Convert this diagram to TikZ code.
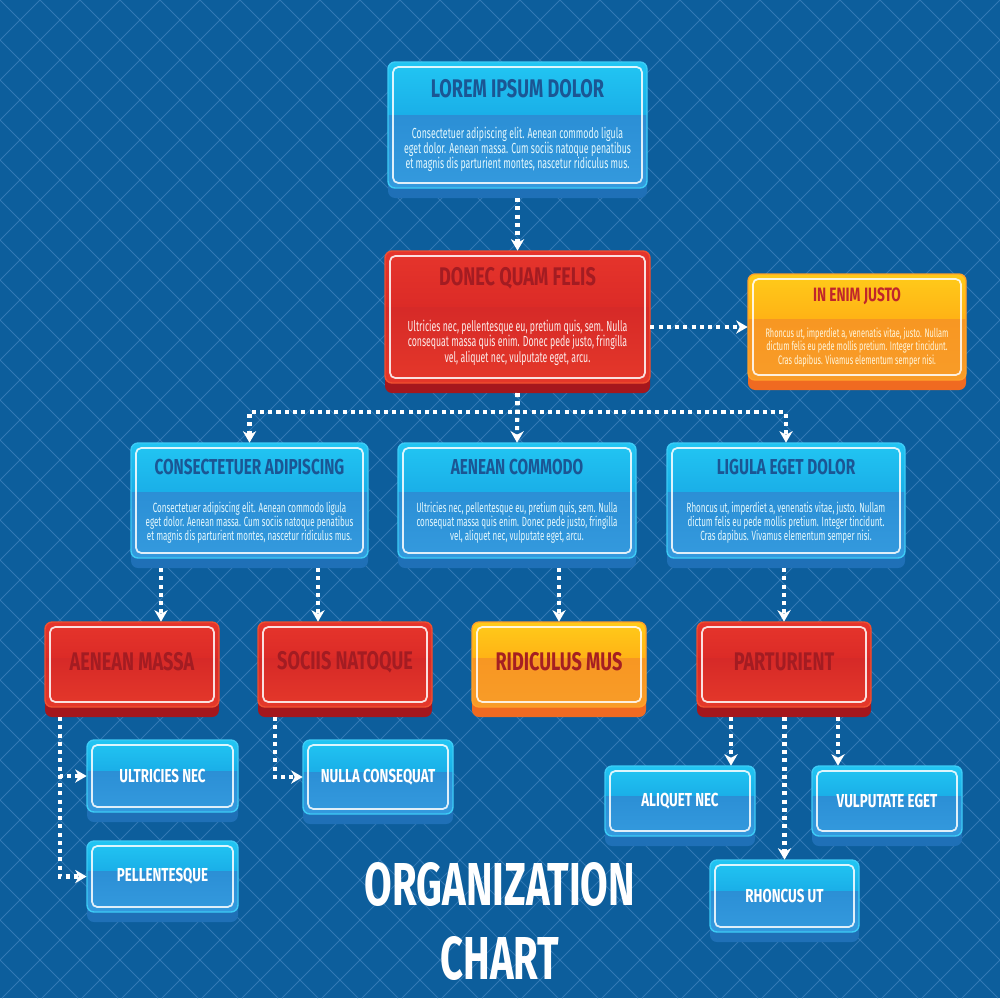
\documentclass[tikz,border=0pt]{standalone}
\usepackage{fontspec}
\setmainfont{Fira Sans}[FakeStretch=0.6]
\newfontfamily\bigfam{Fira Sans}[FakeStretch=0.66]
\newfontfamily\ttlfam{Fira Sans}[FakeStretch=0.71]
\usetikzlibrary{arrows.meta,fit,calc}
\definecolor{bg}{HTML}{0D5E9C}
\definecolor{gridc}{HTML}{3379B5}
\definecolor{Btop1}{HTML}{22C6F3}
\definecolor{Btop2}{HTML}{1AAFE8}
\definecolor{Bbot1}{HTML}{2587CF}
\definecolor{Bbot2}{HTML}{349ADE}
\definecolor{Bbase}{HTML}{1F70B7}
\definecolor{Bedge}{HTML}{3CCBF6}
\definecolor{Btitle}{HTML}{1B5694}
\definecolor{Rtop1}{HTML}{E6352C}
\definecolor{Rtop2}{HTML}{DC2B27}
\definecolor{Rbot1}{HTML}{CB1F26}
\definecolor{Rbot2}{HTML}{E5382A}
\definecolor{Rbase}{HTML}{A5171D}
\definecolor{Redge}{HTML}{F05030}
\definecolor{Rtitle}{HTML}{A31C22}
\definecolor{Otop1}{HTML}{FFCB1A}
\definecolor{Otop2}{HTML}{FFB315}
\definecolor{Obot1}{HTML}{F7931E}
\definecolor{Obot2}{HTML}{F89C28}
\definecolor{Obase}{HTML}{F06A21}
\definecolor{Oedge}{HTML}{FFA02A}
\definecolor{Otitle}{HTML}{C0262B}
\definecolor{Otitleb}{HTML}{A51F22}
\newcommand\gbox[6]{%
  \pgfmathsetmacro\ysp{#3+0.42*(#5-#3)}%
  \pgfmathsetmacro\ytt{(#3+\ysp)/2}%
  \pgfmathsetmacro\ydd{(\ysp+#5)/2}%
  \pgfmathsetmacro\xcc{(#2+#4)/2}%
  \pgfmathsetmacro\ybb{#5+10}%
  \fill[#6base, rounded corners=4pt] (#2,#3+6) rectangle (#4,#5+10);
  \shade[top color=#6bot1, bottom color=#6bot2, rounded corners=4pt] (#2,#3) rectangle (#4,#5);
  \begin{scope}
    \clip[rounded corners=4pt] (#2,#3) rectangle (#4,#5);
    \shade[top color=#6top1, bottom color=#6top2] (#2,#3) rectangle (#4,\ysp);
  \end{scope}
  \draw[#6edge, line width=0.8pt, rounded corners=4pt] (#2,#3) rectangle (#4,#5);
  \draw[white, line width=1pt, rounded corners=3pt, opacity=.85] (#2+5,#3+5) rectangle (#4-5,#5-5);
  \node[fit={(#2,#3)(#4,#5)}, inner sep=0pt] (#1) {};
  \coordinate (#1b) at (\xcc,\ybb);
  \coordinate (#1t) at (\xcc,\ytt);
  \coordinate (#1d) at (\xcc,\ydd);
}
\tikzset{
  conn/.style={white, line width=2.3pt, dash pattern=on 2.3pt off 2.4pt,
    -{Stealth[width=7.5pt,length=6.5pt,inset=2pt]}},
  bigtitle/.style={font=\ttlfam\fontsize{14.5}{16}\selectfont\bfseries},
  midtitle/.style={font=\ttlfam\fontsize{12.3}{14}\selectfont\bfseries},
  leaftitle/.style={white, font=\ttlfam\fontsize{10.7}{12}\selectfont\bfseries},
  body/.style={align=center, inner sep=0pt, font=\fontsize{8.3}{8.7}\selectfont},
  bodymid/.style={align=center, inner sep=0pt, font=\fontsize{7.6}{8.2}\selectfont},
  bodysmall/.style={align=center, inner sep=0pt, font=\fontsize{7}{7.6}\selectfont},
  maintitle/.style={white, font=\bigfam\fontsize{34.5}{40}\selectfont\bfseries},
}
\begin{document}
\begin{tikzpicture}[x=0.02cm, y=-0.02cm]
\useasboundingbox (0,0) rectangle (1000,998);
\fill[bg] (0,0) rectangle (1000,998);
\begin{scope}
  \clip (0,0) rectangle (1000,998);
  \foreach \c in {-1000,-960,...,2000} {
    \draw[gridc, line width=0.5pt] (\c,0) -- (\c+998,998);
    \draw[gridc, line width=0.5pt] (\c,0) -- (\c-998,998);
  }
\end{scope}
% boxes
\gbox{tb}{388}{62}{647}{188}{B}
\gbox{rd}{385}{251}{650}{383}{R}
\gbox{oj}{748}{274}{966}{380}{O}
\gbox{bA}{131}{443}{368}{558}{B}
\gbox{bB}{398}{443}{636}{558}{B}
\gbox{bC}{667}{443}{905}{558}{B}
\gbox{mA}{45}{622}{219}{707}{R}
\gbox{mB}{258}{622}{432}{707}{R}
\gbox{mC}{472}{622}{646}{707}{O}
\gbox{mD}{697}{622}{871}{707}{R}
\gbox{ua}{87}{740}{238}{812}{B}
\gbox{pe}{87}{841}{238}{912}{B}
\gbox{nc}{303}{740}{453}{814}{B}
\gbox{al}{605}{766}{755}{836}{B}
\gbox{vu}{812}{766}{962}{836}{B}
\gbox{rh}{710}{860}{859}{932}{B}
% texts
\node[bigtitle, Btitle] (tbT) at (tbt) {LOREM IPSUM DOLOR};
\node[body, white!88!Btop1] (tbD) at ([yshift=0.04cm]tbd) {Consectetuer adipiscing elit. Aenean commodo ligula\\eget dolor. Aenean massa. Cum sociis natoque penatibus\\et magnis dis parturient montes, nascetur ridiculus mus.};
\node[bigtitle, Rtitle] (rdT) at (rdt) {DONEC QUAM FELIS};
\node[body, white!90!Rtop1] (rdD) at ([yshift=0.04cm]rdd) {Ultricies nec, pellentesque eu, pretium quis, sem. Nulla\\consequat massa quis enim. Donec pede justo, fringilla\\vel, aliquet nec, vulputate eget, arcu.};
\node[Otitle, font=\ttlfam\fontsize{11}{13}\selectfont\bfseries] (ojT) at (ojt) {IN ENIM JUSTO};
\node[bodysmall, white!85!Otop1] (ojD) at ([yshift=0.04cm]ojd) {Rhoncus ut, imperdiet a, venenatis vitae, justo. Nullam\\dictum felis eu pede mollis pretium. Integer tincidunt.\\Cras dapibus. Vivamus elementum semper nisi.};
\node[midtitle, Btitle] (bAT) at (bAt) {CONSECTETUER ADIPISCING};
\node[bodymid, white!88!Btop1] (bAD) at ([yshift=0.04cm]bAd) {Consectetuer adipiscing elit. Aenean commodo ligula\\eget dolor. Aenean massa. Cum sociis natoque penatibus\\et magnis dis parturient montes, nascetur ridiculus mus.};
\node[midtitle, Btitle] (bBT) at (bBt) {AENEAN COMMODO};
\node[bodymid, white!88!Btop1] (bBD) at ([yshift=0.04cm]bBd) {Ultricies nec, pellentesque eu, pretium quis, sem. Nulla\\consequat massa quis enim. Donec pede justo, fringilla\\vel, aliquet nec, vulputate eget, arcu.};
\node[midtitle, Btitle] (bCT) at (bCt) {LIGULA EGET DOLOR};
\node[bodymid, white!88!Btop1] (bCD) at ([yshift=0.04cm]bCd) {Rhoncus ut, imperdiet a, venenatis vitae, justo. Nullam\\dictum felis eu pede mollis pretium. Integer tincidunt.\\Cras dapibus. Vivamus elementum semper nisi.};
\node[bigtitle, Rtitle] (mAT) at ([yshift=0.05cm]mA) {AENEAN MASSA};
\node[bigtitle, Rtitle] (mBT) at ([yshift=0.05cm]mB) {SOCIIS NATOQUE};
\node[bigtitle, Otitleb] (mCT) at ([yshift=0.05cm]mC) {RIDICULUS MUS};
\node[bigtitle, Rtitle] (mDT) at ([yshift=0.05cm]mD) {PARTURIENT};
\node[leaftitle] (uaT) at (ua) {ULTRICIES NEC};
\node[leaftitle] (peT) at (pe) {PELLENTESQUE};
\node[leaftitle] (ncT) at (nc) {NULLA CONSEQUAT};
\node[leaftitle] (alT) at (al) {ALIQUET NEC};
\node[leaftitle] (vuT) at (vu) {VULPUTATE EGET};
\node[leaftitle] (rhT) at (rh) {RHONCUS UT};
\node[maintitle] (ttl1) at (500,884) {ORGANIZATION};
\node[maintitle] (ttl2) at (500,958) {CHART};
% connectors
\coordinate (bus) at (0,412);
\coordinate (xA) at (161,0);
\coordinate (xB) at (318,0);
\coordinate (xL) at (60,0);
\coordinate (xN) at (275,0);
\coordinate (xP1) at (731,0);
\coordinate (xP3) at (838,0);
\draw[conn] (tbb) -- (rd.north);
\draw[conn] (rd.east |- oj.west) -- (oj.west);
\draw[conn] (rdb) -- (rdb |- bus) -| (bA.north);
\draw[conn] (rdb) -- (bB.north);
\draw[conn] (rdb) -- (rdb |- bus) -| (bC.north);
\draw[conn] (bAb -| xA) -- (mA.north -| xA);
\draw[conn] (bAb -| xB) -- (mB.north -| xB);
\draw[conn] (bBb -| mC.north) -- (mC.north);
\draw[conn] (bCb -| mD.north) -- (mD.north);
\draw[conn] (mAb -| xL) |- (ua.west);
\draw[conn] (mAb -| xL) |- (pe.west);
\draw[conn] (mBb -| xN) |- (nc.west);
\draw[conn] (mDb -| xP1) -- (al.north -| xP1);
\draw[conn] (mDb -| rh.north) -- (rh.north);
\draw[conn] (mDb -| xP3) -- (vu.north -| xP3);
\end{tikzpicture}
\end{document}
